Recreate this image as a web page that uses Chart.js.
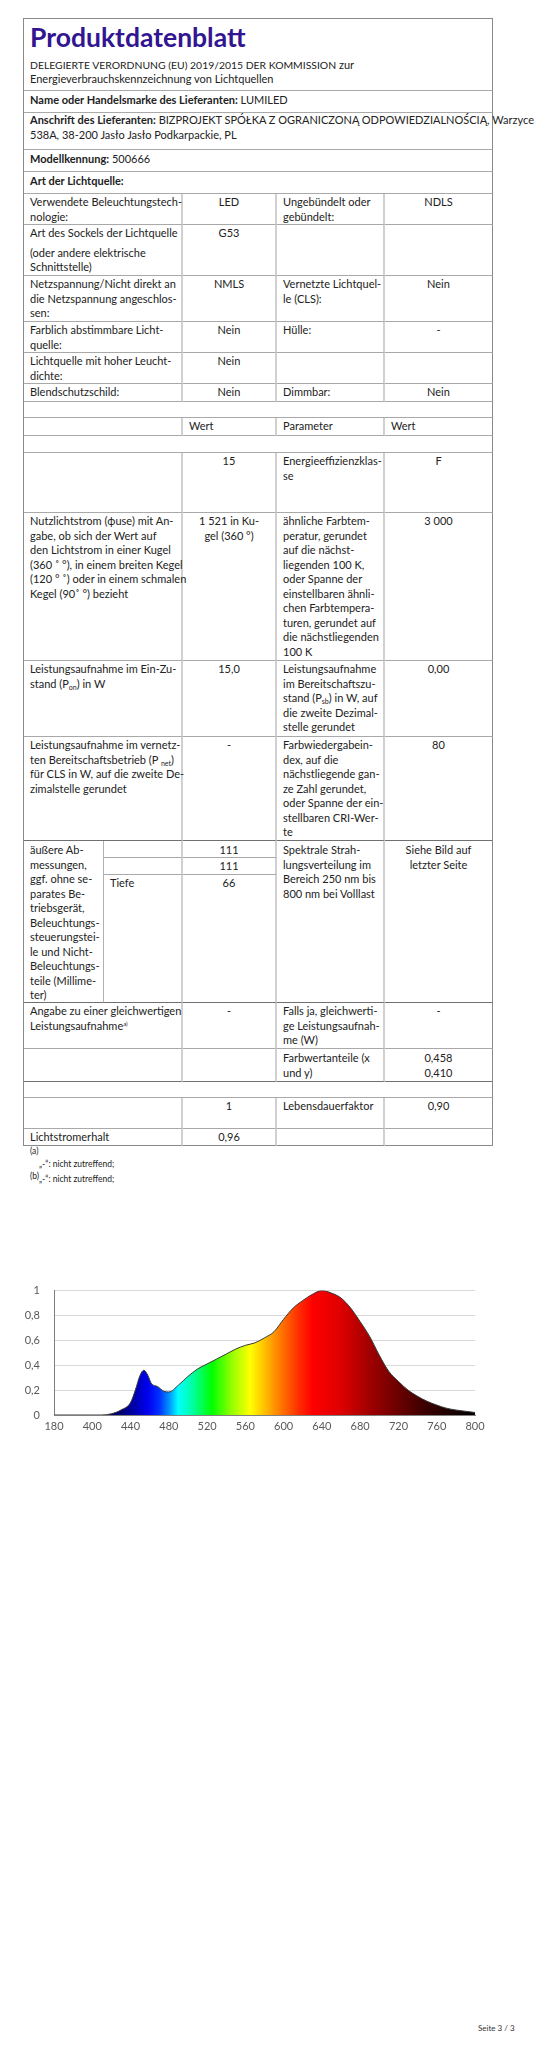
<!DOCTYPE html>
<html>
<head>
<meta charset="utf-8">
<script src="https://cdn.jsdelivr.net/npm/chart.js@4.4.1/dist/chart.umd.min.js"></script>
<style>
  html, body { margin: 0; padding: 0; background: #fff; }
  body { width: 550px; height: 2050px; position: relative; font-family: Lato, sans-serif; font-size: 11px; color: #222; }
  .sheet { position: absolute; left: 23px; top: 18px; box-sizing: border-box; width: 470px; display: grid;
    grid-template-columns: 80px 79px 94px 108px 108px;
    grid-template-rows: 72px 22px 37px 22px 22px 31px 51px 46px 31px 31px 18px 16px 18px 17px 60px 148px 76px 104px 17px 17px 128px 46px 33px 16px 31px 17px;
    border-top: 1px solid #8a8a8a; border-left: 1px solid #8a8a8a; }
  .sheet > div { box-sizing: border-box; padding: 1px 6px 0 6px; line-height: 14.5px; white-space: nowrap; overflow: visible;
    border-bottom: 1px solid #a9a9a9; border-right: 2px solid #d0d0d0; }
  .sheet > div.full { border-right: 1px solid #8a8a8a; }
  .sheet > div.last { border-right: 1px solid #8a8a8a; }
  .sheet > div.c { text-align: center; }
  .sheet > div.dk { border-bottom: 1px solid #707070; }
  .sheet > div.bot { border-bottom: 1px solid #8a8a8a; }
  .sheet > div.sub { border-right: 1px solid #b0b0b0; }
  .title { font-size: 26.5px; font-weight: 700; color: #321591; line-height: 30px; }
  .reg { font-size: 10.4px; }
  sub { font-size: 7px; line-height: 0; vertical-align: -2px; }
  sup { font-size: 6px; line-height: 0; vertical-align: 4px; }
  .foot { position: absolute; font-size: 8.5px; color: #222; white-space: nowrap; }
  #chartBox { position: absolute; left: 0; top: 1270px; width: 550px; height: 180px; }
  .page { position: absolute; left: 478px; top: 2023px; font-size: 8px; color: #333; }
</style>
</head>
<body>
<div class="sheet">
  <div class="full" style="grid-area:1/1/2/6; padding-top:3px"><div class="title">Produktdatenblatt</div><div style="padding-top:6px; line-height:13px"><span class="reg">DELEGIERTE VERORDNUNG (EU) 2019/2015 DER KOMMISSION</span> zur<br>Energieverbrauchskennzeichnung von Lichtquellen</div></div>
  <div class="full" style="grid-area:2/1/3/6; padding-top:2px"><b>Name oder Handelsmarke des Lieferanten:</b> LUMILED</div>
  <div class="full" style="grid-area:3/1/4/6; padding-top:0"><b>Anschrift des Lieferanten:</b> BIZPROJEKT SPÓŁKA Z OGRANICZONĄ ODPOWIEDZIALNOŚCIĄ, Warzyce<br>538A, 38-200 Jasło Jasło Podkarpackie, PL</div>
  <div class="full" style="grid-area:4/1/5/6; padding-top:2px"><b>Modellkennung:</b> 500666</div>
  <div class="full" style="grid-area:5/1/6/6; padding-top:2px"><b>Art der Lichtquelle:</b></div>

  <div style="grid-area:6/1/7/3">Verwendete Beleuchtungstech-<br>nologie:</div>
  <div class="c" style="grid-area:6/3/7/4">LED</div>
  <div style="grid-area:6/4/7/5">Ungebündelt oder<br>gebündelt:</div>
  <div class="c last" style="grid-area:6/5/7/6">NDLS</div>

  <div style="grid-area:7/1/8/3">Art des Sockels der Lichtquelle<br><span style="display:inline-block;padding-top:5px">(oder andere elektrische</span><br>Schnittstelle)</div>
  <div class="c" style="grid-area:7/3/8/4">G53</div>
  <div style="grid-area:7/4/8/5"></div>
  <div class="last" style="grid-area:7/5/8/6"></div>

  <div style="grid-area:8/1/9/3">Netzspannung/Nicht direkt an<br>die Netzspannung angeschlos-<br>sen:</div>
  <div class="c" style="grid-area:8/3/9/4">NMLS</div>
  <div style="grid-area:8/4/9/5">Vernetzte Lichtquel-<br>le (CLS):</div>
  <div class="c last" style="grid-area:8/5/9/6">Nein</div>

  <div style="grid-area:9/1/10/3">Farblich abstimmbare Licht-<br>quelle:</div>
  <div class="c" style="grid-area:9/3/10/4">Nein</div>
  <div style="grid-area:9/4/10/5">Hülle:</div>
  <div class="c last" style="grid-area:9/5/10/6">-</div>

  <div style="grid-area:10/1/11/3">Lichtquelle mit hoher Leucht-<br>dichte:</div>
  <div class="c" style="grid-area:10/3/11/4">Nein</div>
  <div style="grid-area:10/4/11/5"></div>
  <div class="last" style="grid-area:10/5/11/6"></div>

  <div style="grid-area:11/1/12/3">Blendschutzschild:</div>
  <div class="c" style="grid-area:11/3/12/4">Nein</div>
  <div style="grid-area:11/4/12/5">Dimmbar:</div>
  <div class="c last" style="grid-area:11/5/12/6">Nein</div>

  <div class="full" style="grid-area:12/1/13/6"></div>

  <div style="grid-area:13/1/14/3"></div>
  <div style="grid-area:13/3/14/4">Wert</div>
  <div style="grid-area:13/4/14/5">Parameter</div>
  <div class="last" style="grid-area:13/5/14/6">Wert</div>

  <div class="full" style="grid-area:14/1/15/6"></div>

  <div style="grid-area:15/1/16/3"></div>
  <div class="c" style="grid-area:15/3/16/4">15</div>
  <div style="grid-area:15/4/16/5">Energieeffizienzklas-<br>se</div>
  <div class="c last" style="grid-area:15/5/16/6">F</div>

  <div style="grid-area:16/1/17/3">Nutzlichtstrom (ϕuse) mit An-<br>gabe, ob sich der Wert auf<br>den Lichtstrom in einer Kugel<br>(360 ˚ °), in einem breiten Kegel<br>(120 ° ˚) oder in einem schmalen<br>Kegel (90˚ °) bezieht</div>
  <div class="c" style="grid-area:16/3/17/4">1 521 in Ku-<br>gel (360 °)</div>
  <div style="grid-area:16/4/17/5">ähnliche Farbtem-<br>peratur, gerundet<br>auf die nächst-<br>liegenden 100 K,<br>oder Spanne der<br>einstellbaren ähnli-<br>chen Farbtempera-<br>turen, gerundet auf<br>die nächstliegenden<br>100 K</div>
  <div class="c last" style="grid-area:16/5/17/6">3 000</div>

  <div style="grid-area:17/1/18/3">Leistungsaufnahme im Ein-Zu-<br>stand (P<sub>on</sub>) in W</div>
  <div class="c" style="grid-area:17/3/18/4">15,0</div>
  <div style="grid-area:17/4/18/5">Leistungsaufnahme<br>im Bereitschaftszu-<br>stand (P<sub>sb</sub>) in W, auf<br>die zweite Dezimal-<br>stelle gerundet</div>
  <div class="c last" style="grid-area:17/5/18/6">0,00</div>

  <div class="dk" style="grid-area:18/1/19/3">Leistungsaufnahme im vernetz-<br>ten Bereitschaftsbetrieb (P <sub>net</sub>)<br>für CLS in W, auf die zweite De-<br>zimalstelle gerundet</div>
  <div class="c dk" style="grid-area:18/3/19/4">-</div>
  <div class="dk" style="grid-area:18/4/19/5">Farbwiedergabein-<br>dex, auf die<br>nächstliegende gan-<br>ze Zahl gerundet,<br>oder Spanne der ein-<br>stellbaren CRI-Wer-<br>te</div>
  <div class="c dk last" style="grid-area:18/5/19/6">80</div>

  <div class="dk sub" style="grid-area:19/1/22/2; padding-top:2px">äußere Ab-<br>messungen,<br>ggf. ohne se-<br>parates Be-<br>triebsgerät,<br>Beleuchtungs-<br>steuerungstei-<br>le und Nicht-<br>Beleuchtungs-<br>teile (Millime-<br>ter)</div>
  <div style="grid-area:19/2/20/3"></div>
  <div class="c" style="grid-area:19/3/20/4; padding-top:2px">111</div>
  <div style="grid-area:20/2/21/3"></div>
  <div class="c" style="grid-area:20/3/21/4; padding-top:1px">111</div>
  <div class="dk" style="grid-area:21/2/22/3; padding-top:1px">Tiefe</div>
  <div class="c dk" style="grid-area:21/3/22/4; padding-top:1px">66</div>
  <div class="dk" style="grid-area:19/4/22/5; padding-top:2px">Spektrale Strah-<br>lungsverteilung im<br>Bereich 250 nm bis<br>800 nm bei Volllast</div>
  <div class="c dk last" style="grid-area:19/5/22/6; padding-top:2px">Siehe Bild auf<br>letzter Seite</div>

  <div style="grid-area:22/1/23/3">Angabe zu einer gleichwertigen<br>Leistungsaufnahme<sup>a)</sup></div>
  <div class="c" style="grid-area:22/3/23/4">-</div>
  <div style="grid-area:22/4/23/5">Falls ja, gleichwerti-<br>ge Leistungsaufnah-<br>me (W)</div>
  <div class="c last" style="grid-area:22/5/23/6">-</div>

  <div class="dk" style="grid-area:23/1/24/3"></div>
  <div class="dk" style="grid-area:23/3/24/4"></div>
  <div class="dk" style="grid-area:23/4/24/5; padding-top:2px">Farbwertanteile (x<br>und y)</div>
  <div class="c dk last" style="grid-area:23/5/24/6; padding-top:2px">0,458<br>0,410</div>

  <div class="full" style="grid-area:24/1/25/6"></div>

  <div style="grid-area:25/1/26/3"></div>
  <div class="c" style="grid-area:25/3/26/4">1</div>
  <div style="grid-area:25/4/26/5">Lebensdauerfaktor</div>
  <div class="c last" style="grid-area:25/5/26/6">0,90</div>

  <div class="bot" style="grid-area:26/1/27/3">Lichtstromerhalt</div>
  <div class="c bot" style="grid-area:26/3/27/4">0,96</div>
  <div class="bot" style="grid-area:26/4/27/5"></div>
  <div class="bot last" style="grid-area:26/5/27/6"></div>
</div>

<div class="foot" style="left:30px; top:1146px;">(a)</div>
<div class="foot" style="left:39px; top:1159px;">„-“: nicht zutreffend;</div>
<div class="foot" style="left:30px; top:1171px;">(b)</div>
<div class="foot" style="left:39px; top:1174px;">„-“: nicht zutreffend;</div>

<div id="chartBox"><canvas id="spectrum"></canvas></div>

<div class="page">Seite 3 / 3</div>

<script>
// spectral distribution (nm, relative intensity)
const wavelengths = [360, 400, 410, 420, 430, 440, 445, 450, 454, 458, 462, 468, 475, 480, 490, 500, 510, 520, 530, 540,
  550, 560, 570, 580, 590, 600, 610, 620, 630, 640, 650, 660, 670, 680, 690, 700, 710, 720, 730, 740, 750, 760, 770, 780, 790, 800]
const intensity = [0, 0, 0, 0.01, 0.04, 0.1, 0.2, 0.32, 0.36, 0.32, 0.25, 0.23, 0.19, 0.185, 0.24, 0.31, 0.37, 0.41, 0.45, 0.49,
  0.53, 0.56, 0.58, 0.62, 0.67, 0.77, 0.86, 0.92, 0.97, 1.0, 0.98, 0.94, 0.86, 0.75, 0.63, 0.48, 0.35, 0.27, 0.2, 0.15, 0.11, 0.08, 0.055, 0.04, 0.03, 0.02]
const xTickLabels = ['180', '400', '440', '480', '520', '560', '600', '640', '680', '720', '760', '800']

// rainbow fill, by wavelength
const spectrumStops = [
  [360, '#000050'], [430, '#000070'], [445, '#0000b0'], [458, '#0000f0'], [470, '#0030ff'], [480, '#0090ff'],
  [490, '#00ffff'], [505, '#00ffa0'], [525, '#00ff00'], [545, '#90ff00'], [565, '#ffff00'], [580, '#ffc000'],
  [595, '#ff8000'], [615, '#ff3000'], [630, '#ff0000'], [660, '#dd0000'], [690, '#a00000'], [720, '#6a0000'],
  [750, '#380000'], [780, '#150000'], [800, '#000000']
]

const font = { family: 'Lato', size: 11 }

new Chart(document.getElementById('spectrum'), {
  type: 'line',
  data: {
    datasets: [{
      data: wavelengths.map((w, i) => ({ x: w, y: intensity[i] })),
      borderColor: '#3a3a3a',
      borderWidth: 1,
      pointRadius: 0,
      cubicInterpolationMode: 'monotone',
      fill: 'origin',
      backgroundColor: ctx => {
        const chart = ctx.chart
        if (!chart.chartArea) return 'rgba(0,0,0,0)'
        const xs = chart.scales.x
        const x0 = xs.getPixelForValue(360), x1 = xs.getPixelForValue(800)
        const g = chart.ctx.createLinearGradient(x0, 0, x1, 0)
        spectrumStops.forEach(([nm, c]) => g.addColorStop((nm - 360) / 440, c))
        return g
      }
    }]
  },
  options: {
    responsive: true,
    maintainAspectRatio: false,
    animation: false,
    layout: { padding: { top: 16, right: 75, bottom: 15, left: 0 } },
    plugins: { legend: { display: false }, tooltip: { enabled: false } },
    scales: {
      x: {
        type: 'linear',
        min: 360,
        max: 800,
        afterFit: s => { s.height = 20 },
        ticks: {
          stepSize: 40,
          padding: 5,
          font,
          color: '#595959',
          maxRotation: 0,
          autoSkip: false,
          callback: (v, i) => xTickLabels[i]
        },
        grid: { display: false, drawTicks: false },
        border: { color: '#7f7f7f', width: 1 }
      },
      y: {
        min: 0,
        max: 1,
        afterFit: s => { s.width = 54 },
        ticks: {
          stepSize: 0.2,
          padding: 14,
          font,
          color: '#595959',
          callback: v => String(Math.round(v * 10) / 10).replace('.', ',')
        },
        grid: { color: '#d9d9d9', drawTicks: false },
        border: { color: '#7f7f7f', width: 1 }
      }
    }
  }
})
</script>
</body>
</html>
